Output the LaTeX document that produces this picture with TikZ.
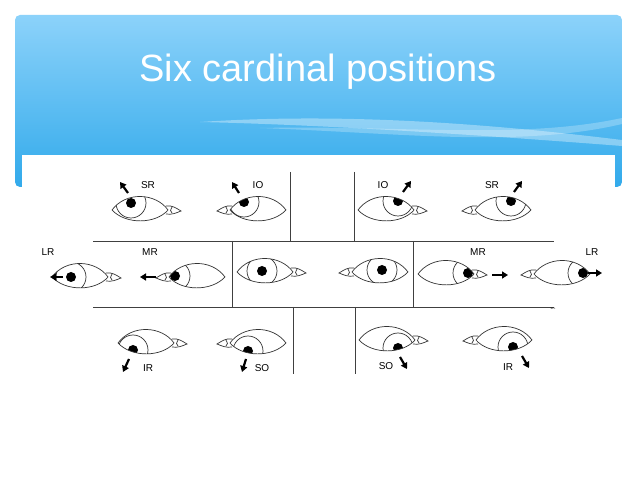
\documentclass[tikz,border=0pt]{standalone}
\usepackage{fontspec}
\setmainfont{Liberation Sans}
\usetikzlibrary{arrows.meta}
\begin{document}
\begin{tikzpicture}[x=1pt,y=-1pt,
  lbl/.style={font=\fontsize{10}{11}\selectfont},
  grid/.style={draw=black!75,line width=0.7pt},
  mv/.style={-{Triangle[length=6pt,width=7pt]},line width=2.2pt},
  lid/.style={draw=black!80,line width=0.7pt}]
\useasboundingbox (0,0) rectangle (638,478);
\fill[white] (0,0) rectangle (638,478);
% header
\shade[top color={rgb,255:red,140;green,210;blue,250},bottom color={rgb,255:red,50;green,170;blue,235},rounded corners=5pt] (15,15) rectangle (622,187);
\fill[white,opacity=0.35] (200,122) .. controls (350,112) and (500,125) .. (622,140) -- (622,146) .. controls (480,135) and (330,125) .. (200,122);
\fill[white,opacity=0.25] (260,128) .. controls (400,125) and (520,140) .. (622,118) -- (622,124) .. controls (520,148) and (400,133) .. (260,128);
\fill[white] (22,155) rectangle (615,200);
\node (title) at (318,72) {\color{white}\fontsize{38}{40}\selectfont Six cardinal positions};
% grid
\draw[grid] (290,172) -- (290,241);
\draw[grid] (354,172) -- (354,241);
\draw[grid] (93,241) -- (554,241);
\draw[grid] (93,307) -- (554,307);
\draw[grid] (232,241) -- (232,307);
\draw[grid] (413,241) -- (413,307);
\draw[grid] (293,307) -- (293,374);
\draw[grid] (355,307) -- (355,374);
\node[font=\fontsize{2.5}{3}\selectfont] (scl) at (553,309) {SCL};
% eye macro: cx cy side px py
\newcommand\myeye[5]{%
 \begin{scope}
  \clip[shift={(#1,#2)},xscale=#3] (-34,0) .. controls (-20,-19) and (10,-17) .. (22,0) .. controls (10,14) and (-20,15) .. (-34,0) -- cycle;
  \draw[lid] (#4,#5) circle (15);
  \fill (#4,#5) circle (5);
 \end{scope}
 \begin{scope}[shift={(#1,#2)},xscale=#3]
  \draw[lid] (-34,0) .. controls (-20,-19) and (10,-17) .. (22,0) .. controls (10,14) and (-20,15) .. (-34,0) -- cycle;
  \draw[lid] (20,-4) .. controls (26,-5) and (30,-2) .. (35,1) .. controls (30,3) and (26,5) .. (20,4);
  \draw[lid] (26,-3) .. controls (24,-1) and (24,2) .. (26,3);
 \end{scope}}
% top row
\myeye{146}{210}{1}{131}{203}
\myeye{252}{210}{-1}{244}{202}
\myeye{392}{210}{1}{398}{201}
\myeye{497}{210}{-1}{511}{201}
% middle
\myeye{86}{277}{1}{71}{277}
\myeye{191}{277}{-1}{175}{276}
\myeye{271}{272}{1}{262}{271}
\myeye{374}{272}{-1}{382}{270}
\myeye{452}{274}{1}{468}{273}
\myeye{556}{274}{-1}{583}{273}
% bottom
\myeye{152}{343}{1}{133}{350}
\myeye{252}{343}{-1}{248}{351}
\myeye{393}{340}{1}{398}{348}
\myeye{498}{340}{-1}{513}{347}
% labels
\node[lbl] (l1) at (148,185) {SR};
\node[lbl] (l2) at (258,185) {IO};
\node[lbl] (l3) at (383,185) {IO};
\node[lbl] (l4) at (492,185) {SR};
\node[lbl] (l5) at (48,252) {LR};
\node[lbl] (l6) at (150,252) {MR};
\node[lbl] (l7) at (478,252) {MR};
\node[lbl] (l8) at (592,252) {LR};
\node[lbl] (l9) at (148,368) {IR};
\node[lbl] (l10) at (262,368) {SO};
\node[lbl] (l11) at (386,366) {SO};
\node[lbl] (l12) at (508,367) {IR};
% arrows
\coordinate (a1s) at (128,193); \coordinate (a1e) at (120,182);
\draw[mv] (a1s) -- (a1e);
\coordinate (a2s) at (239,193); \coordinate (a2e) at (232,182);
\draw[mv] (a2s) -- (a2e);
\coordinate (a3s) at (403,192); \coordinate (a3e) at (411,181);
\draw[mv] (a3s) -- (a3e);
\coordinate (a4s) at (514,192); \coordinate (a4e) at (522,181);
\draw[mv] (a4s) -- (a4e);
\coordinate (a5s) at (63,277); \coordinate (a5e) at (50,277);
\draw[mv] (a5s) -- (a5e);
\coordinate (a6s) at (156,277); \coordinate (a6e) at (140,277);
\draw[mv] (a6s) -- (a6e);
\coordinate (a7s) at (492,275); \coordinate (a7e) at (508,275);
\draw[mv] (a7s) -- (a7e);
\coordinate (a8s) at (588,273); \coordinate (a8e) at (602,273);
\draw[mv] (a8s) -- (a8e);
\coordinate (a9s) at (129,359); \coordinate (a9e) at (123,372);
\draw[mv] (a9s) -- (a9e);
\coordinate (a10s) at (246,359); \coordinate (a10e) at (242,372);
\draw[mv] (a10s) -- (a10e);
\coordinate (a11s) at (400,357); \coordinate (a11e) at (407,369);
\draw[mv] (a11s) -- (a11e);
\coordinate (a12s) at (522,356); \coordinate (a12e) at (529,368);
\draw[mv] (a12s) -- (a12e);
\end{tikzpicture}
\end{document}
